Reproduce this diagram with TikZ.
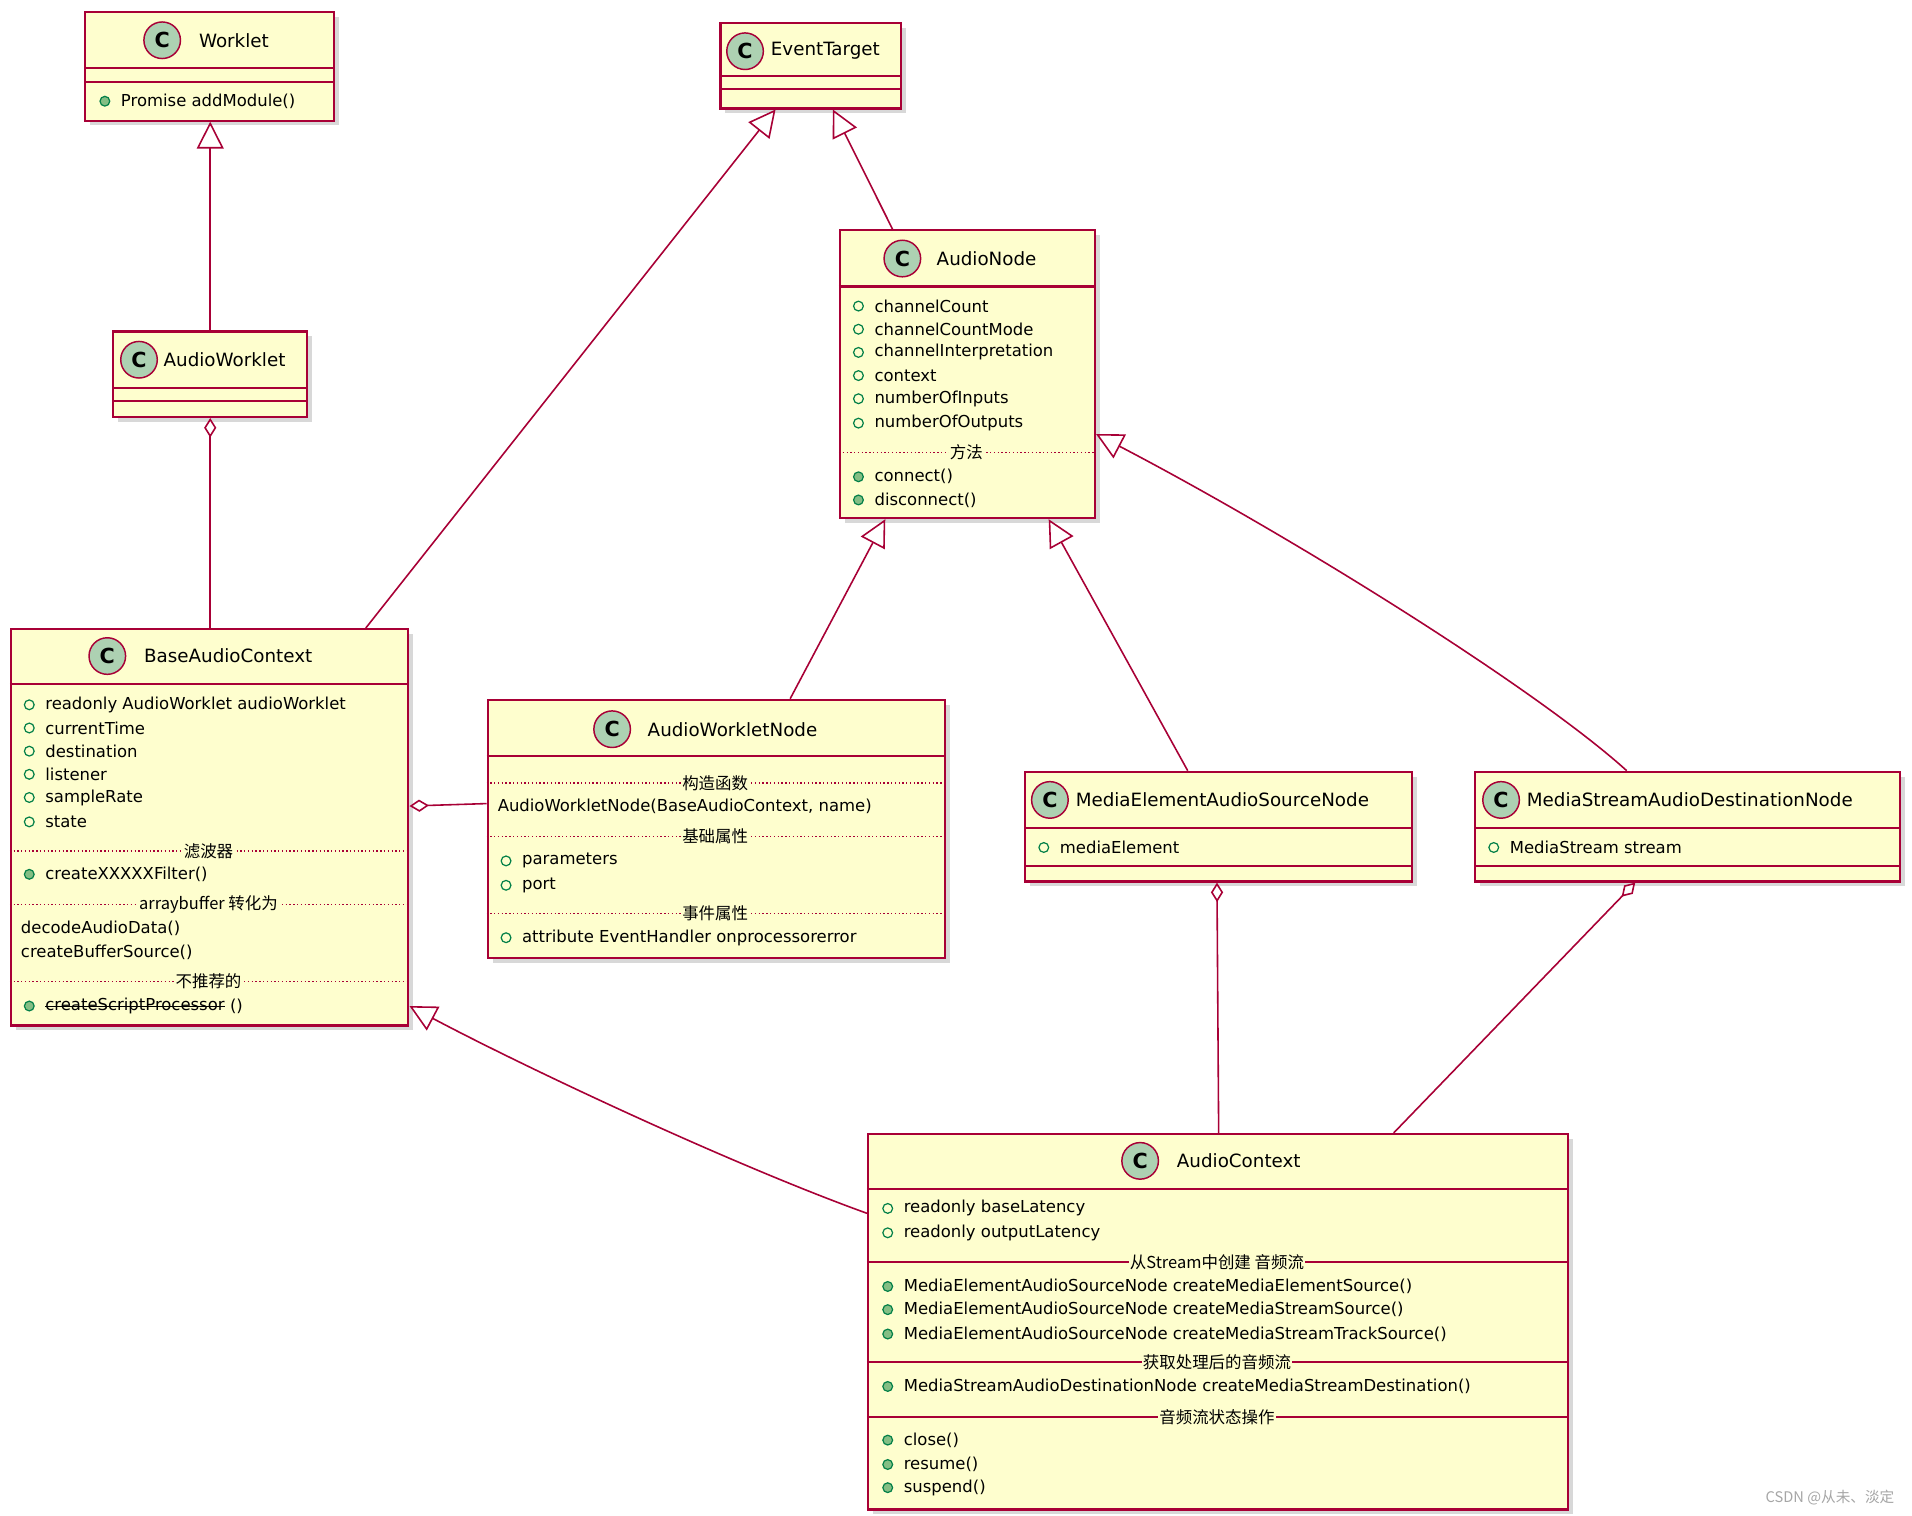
\documentclass[tikz,border=0pt]{standalone}
\usepackage{fontspec}
\setmainfont{DejaVu Sans}
\newfontfamily\cjk{Noto Sans CJK SC}
\usetikzlibrary{shadows,arrows.meta}
\definecolor{umlred}{HTML}{A80036}
\definecolor{umlfill}{HTML}{FEFECE}
\definecolor{cgreen}{HTML}{ADD1B2}
\definecolor{vgreen}{HTML}{038048}
\definecolor{mgreen}{HTML}{84BE84}
\tikzset{
 box/.style={draw=umlred, line width=1.8pt, fill=umlfill, anchor=north west, inner sep=0pt,
   drop shadow={shadow xshift=4pt, shadow yshift=-4pt, opacity=0.3}},
 itm/.style={anchor=west, inner sep=0pt, font=\fontsize{13.5}{14}\selectfont},
 ttl/.style={anchor=west, inner sep=0pt, font=\fontsize{15}{16}\selectfont},
 lbl/.style={fill=umlfill, inner sep=1pt, font=\cjk\fontsize{13.5}{14}\selectfont},
 conn/.style={draw=umlred, line width=1.3pt},
 inh/.style={conn, -{Triangle[open, length=22pt, width=22pt, fill=white]}},
 agg/.style={conn, -{Diamond[open, length=16pt, width=10pt, fill=white]}},
}
\newcommand\hd[4]{% x y circlex title
 \draw[umlred, line width=1.2pt, fill=cgreen] (#3,#2) circle (15pt);
 \node[inner sep=0pt, font=\bfseries\fontsize{17}{17}\selectfont] at (#3,#2) {C};
 \node[ttl] at (#1,#2) {#4};}
\newcommand\hl[3]{\draw[umlred, line width=1.8pt] (#1,#3) -- (#2,#3);}
\newcommand\fld[3]{\draw[vgreen, line width=1pt] (#1,#2) circle (4pt); \node[itm] at (#1+13,#2) {#3};}
\newcommand\mth[3]{\draw[vgreen, line width=1pt, fill=mgreen] (#1,#2) circle (4pt); \node[itm] at (#1+13,#2) {#3};}
\newcommand\dsep[4]{\draw[umlred, line width=1.1pt, dotted] (#1,#3) -- (#2,#3); \node[lbl] at ({(#1+#2)/2},#3) {#4};}
\newcommand\ssep[4]{\draw[umlred, line width=1.1pt] (#1,#3) -- (#2,#3); \node[lbl] at ({(#1+#2)/2},#3) {#4};}
\begin{document}
\begin{tikzpicture}[x=1pt,y=-1pt]
\useasboundingbox[fill=white] (0,0) rectangle (1568,1243);
% Worklet
\node[box, minimum width=204pt, minimum height=89pt] (wk) at (69,9) {};
\hd{163}{33}{133}{Worklet}\hl{69}{273}{56}\hl{69}{273}{67}
\mth{86}{83}{Promise addModule()}
% EventTarget
\node[box, minimum width=148pt, minimum height=70pt] (et) at (590,18) {};
\hd{632}{42}{611}{EventTarget}\hl{590}{738}{62}\hl{590}{738}{73}
% AudioWorklet
\node[box, minimum width=159pt, minimum height=70pt] (aw) at (92,271) {};
\hd{134}{295}{114}{AudioWorklet}\hl{92}{251}{318}\hl{92}{251}{329}
% AudioNode
\node[box, minimum width=209pt, minimum height=236pt] (an) at (688,188) {};
\hd{768}{212}{740}{AudioNode}\hl{688}{897}{235}
\fld{704}{251}{channelCount}
\fld{704}{270}{channelCountMode}
\fld{704}{289}{channelInterpretation}
\fld{704}{308}{context}
\fld{704}{327}{numberOfInputs}
\fld{704}{347}{numberOfOutputs}
\dsep{688}{897}{371}{方法}
\mth{704}{391}{connect()}
\mth{704}{410}{disconnect()}
% BaseAudioContext
\node[box, minimum width=326pt, minimum height=325pt] (bac) at (8,515) {};
\hd{118}{538}{88}{BaseAudioContext}\hl{8}{334}{561}
\fld{24}{578}{readonly AudioWorklet audioWorklet}
\fld{24}{597}{currentTime}
\fld{24}{616}{destination}
\fld{24}{635}{listener}
\fld{24}{654}{sampleRate}
\fld{24}{674}{state}
\dsep{8}{334}{698}{滤波器}
\mth{24}{717}{createXXXXXFilter()}
\dsep{8}{334}{742}{arraybuffer 转化为}
\node[itm] at (17,761) {decodeAudioData()};
\node[itm] at (17,781) {createBufferSource()};
\dsep{8}{334}{805}{不推荐的}
\mth{24}{825}{}
\node[itm] (csp) at (37,825) {createScriptProcessor};
\draw[black, line width=0.8pt] (csp.west) -- (csp.east);
\node[itm, anchor=west] at ([xshift=4pt]csp.east) {()};
% AudioWorkletNode
\node[box, minimum width=375pt, minimum height=212pt] (awn) at (399,573) {};
\hd{531}{598}{502}{AudioWorkletNode}\hl{399}{774}{620}
\dsep{399}{774}{642}{构造函数}
\node[itm] at (408,661) {AudioWorkletNode(BaseAudioContext, name)};
\dsep{399}{774}{686}{基础属性}
\fld{415}{706}{parameters}
\fld{415}{726}{port}
\dsep{399}{774}{749}{事件属性}
\fld{415}{769}{attribute EventHandler onprocessorerror}
% MediaElementAudioSourceNode
\node[box, minimum width=317pt, minimum height=90pt] (me) at (840,632) {};
\hd{882}{656}{861}{MediaElementAudioSourceNode}\hl{840}{1157}{679}
\fld{856}{695}{mediaElement}\hl{840}{1157}{710}
% MediaStreamAudioDestinationNode
\node[box, minimum width=348pt, minimum height=90pt] (ms) at (1209,632) {};
\hd{1252}{656}{1231}{MediaStreamAudioDestinationNode}\hl{1209}{1557}{679}
\fld{1225}{695}{MediaStream stream}\hl{1209}{1557}{710}
% AudioContext
\node[box, minimum width=574pt, minimum height=308pt] (ac) at (711,929) {};
\hd{965}{952}{935}{AudioContext}\hl{711}{1285}{975}
\fld{728}{991}{readonly baseLatency}
\fld{728}{1011}{readonly outputLatency}
\ssep{711}{1285}{1035}{从Stream中创建 音频流}
\mth{728}{1055}{MediaElementAudioSourceNode createMediaElementSource()}
\mth{728}{1074}{MediaElementAudioSourceNode createMediaStreamSource()}
\mth{728}{1094}{MediaElementAudioSourceNode createMediaStreamTrackSource()}
\ssep{711}{1285}{1117}{获取处理后的音频流}
\mth{728}{1137}{MediaStreamAudioDestinationNode createMediaStreamDestination()}
\ssep{711}{1285}{1162}{音频流状态操作}
\mth{728}{1181}{close()}
\mth{728}{1201}{resume()}
\mth{728}{1220}{suspend()}
% watermark
\node[font=\cjk\fontsize{12}{12}\selectfont, text=gray!70, anchor=east] (wm) at (1557,1228) {CSDN @从未、淡定};
% connectors
\draw[inh] (aw.north) -- (aw.north |- wk.south);
\draw[agg] (aw.south |- bac.north) -- (aw.south);
\draw[inh] ([xshift=292pt]bac.north west) -- ([xshift=46pt]et.south west);
\draw[inh] ([xshift=44pt]an.north west) -- ([xshift=93pt]et.south west);
\draw[inh] ([xshift=249pt]awn.north west) -- ([xshift=38pt]an.south west);
\draw[inh] ([xshift=134pt]me.north west) -- ([xshift=172pt]an.south west);
\draw[inh] ([xshift=125pt]ms.north west) .. controls (1260,565) and (1060,440) .. ([yshift=-49pt]an.east);
\draw[agg] ([yshift=-86pt]awn.north west) -- ([yshift=-146pt]bac.north east);
\draw[inh] ([yshift=-66pt]ac.north west) .. controls (600,955) and (430,875) .. ([yshift=-310pt]bac.north east);
\draw[agg] (me.south |- ac.north) -- ([xshift=158pt]me.south west);
\draw[agg] ([xshift=432pt]ac.north west) -- ([xshift=132pt]ms.south west);
\end{tikzpicture}
\end{document}
